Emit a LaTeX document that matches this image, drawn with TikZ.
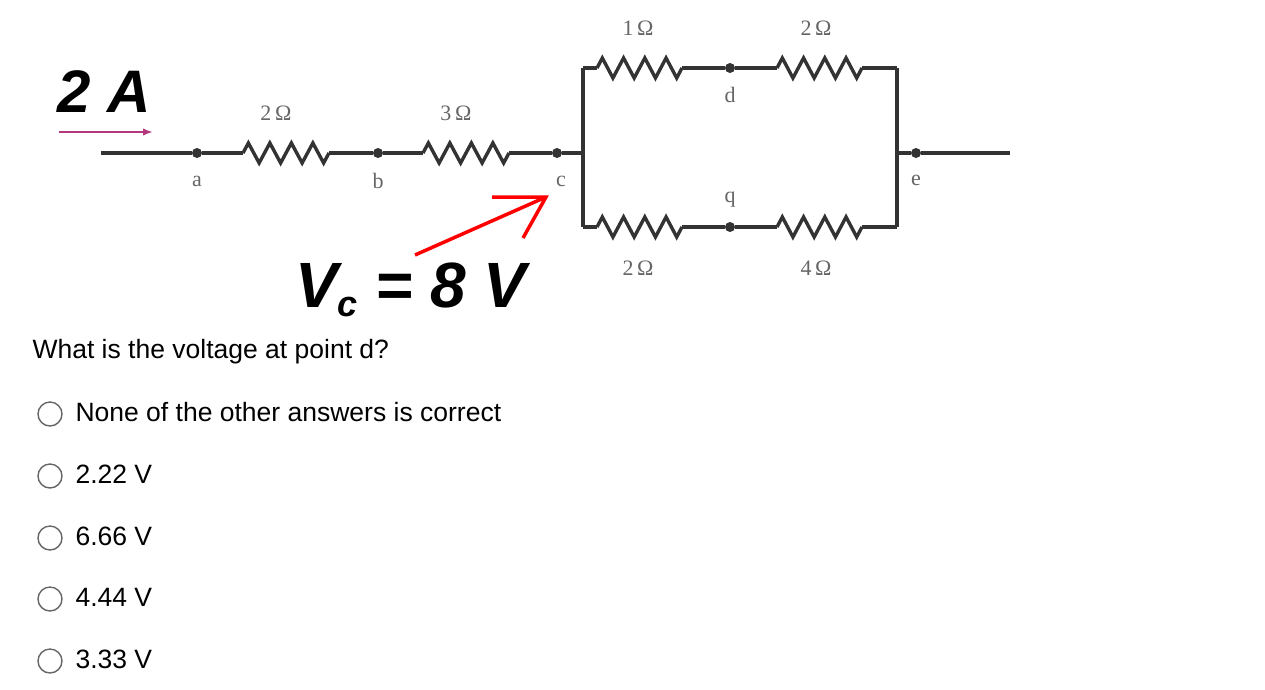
\documentclass[tikz,border=0pt]{standalone}
\usepackage{fontspec}
\setmainfont{Liberation Sans}
\newfontfamily\ser{Liberation Serif}
\usetikzlibrary{arrows.meta}
\newcommand\resist[3]{% x1 x2 y
  \draw[wire] (#1,#3)
  \foreach \k in {1,3,5,7,9,11,13,15} { -- ({#1+(#2-#1)*\k/16},{#3+10*(mod(\k,4)==1?-1:1)}) } -- (#2,#3);}
\begin{document}
\begin{tikzpicture}[x=1pt,y=-1pt,
  wire/.style={line width=3.4pt,draw=black!80,line join=miter},
  dotn/.style={circle,fill=black!80,inner sep=0pt,minimum size=10pt},
  lab/.style={font=\ser\fontsize{22}{22}\selectfont,text=black!60},
  big/.style={font=\bfseries\itshape\fontsize{60}{60}\selectfont},
  q/.style={font=\fontsize{26.5}{26.5}\selectfont,anchor=west},
  opt/.style={circle,draw=black!60,line width=1.4pt,minimum size=24pt,inner sep=0pt}]
\useasboundingbox (0,0) rectangle (1265,689);
\fill[white] (0,0) rectangle (1265,689);
\coordinate (s) at (101,153);
\node[dotn] (a) at (197,153) {};
\node[dotn] (b) at (378,153) {};
\node[dotn] (c) at (557,153) {};
\node[dotn] (e) at (916,153) {};
\coordinate (t) at (1010,153);
\node[dotn] (d) at (730,68) {};
\node[dotn] (qn) at (730,227) {};
\draw[wire] (s) -- (a) -- (243,153);
\resist{243}{329}{153}
\draw[wire] (329,153) -- (b) -- (423,153);
\resist{423}{509}{153}
\draw[wire] (509,153) -- (c) -- (583,153);
\draw[wire] (583,68) -- (583,227);
\draw[wire] (897,68) -- (897,227);
\draw[wire] (897,153) -- (e) -- (t);
\draw[wire] (583,68) -- (597,68);
\resist{597}{682}{68}
\draw[wire] (682,68) -- (d) -- (777,68);
\resist{777}{862}{68}
\draw[wire] (862,68) -- (897,68);
\draw[wire] (583,227) -- (597,227);
\resist{597}{682}{227}
\draw[wire] (682,227) -- (qn) -- (777,227);
\resist{777}{862}{227}
\draw[wire] (862,227) -- (897,227);
\node[lab] at (276,113) {2\,Ω};
\node[lab] at (456,113) {3\,Ω};
\node[lab] at (197,181) {a};
\node[lab] at (378,181) {b};
\node[lab] at (561,181) {c};
\node[lab] at (638,28) {1\,Ω};
\node[lab] at (816,28) {2\,Ω};
\node[lab] at (730,95) {d};
\node[lab] at (730,200) {q};
\node[lab] at (916,180) {e};
\node[lab] at (638,268) {2\,Ω};
\node[lab] at (816,268) {4\,Ω};
\node[big] (amp) at (104,92) {2 A};
\draw[magenta!70!black,line width=2pt,-{Latex[length=10pt]}] (59,132) -- (153,132);
\coordinate (rt) at (415,255);
\coordinate (rh) at (546,197);
\draw[red,line width=3.5pt] (rt) -- (rh);
\draw[red,line width=3.5pt] (492,197) -- (rh) -- (523,238);
\node[big,font=\bfseries\itshape\fontsize{64}{64}\selectfont,inner sep=0pt] at (411,290) {V\kern-1pt\raisebox{-9pt}{\fontsize{36}{36}\selectfont c} = 8 V};
\node[q] at (29,352) {What is the voltage at point d?};
\foreach \y/\t in {412/None of the other answers is correct,474/2.22 V,536/6.66 V,597/4.44 V,659/3.33 V}{
  \node[opt] at (50,\y+2) {};
  \node[q] at (72,\y) {\t};
}
\end{tikzpicture}
\end{document}
